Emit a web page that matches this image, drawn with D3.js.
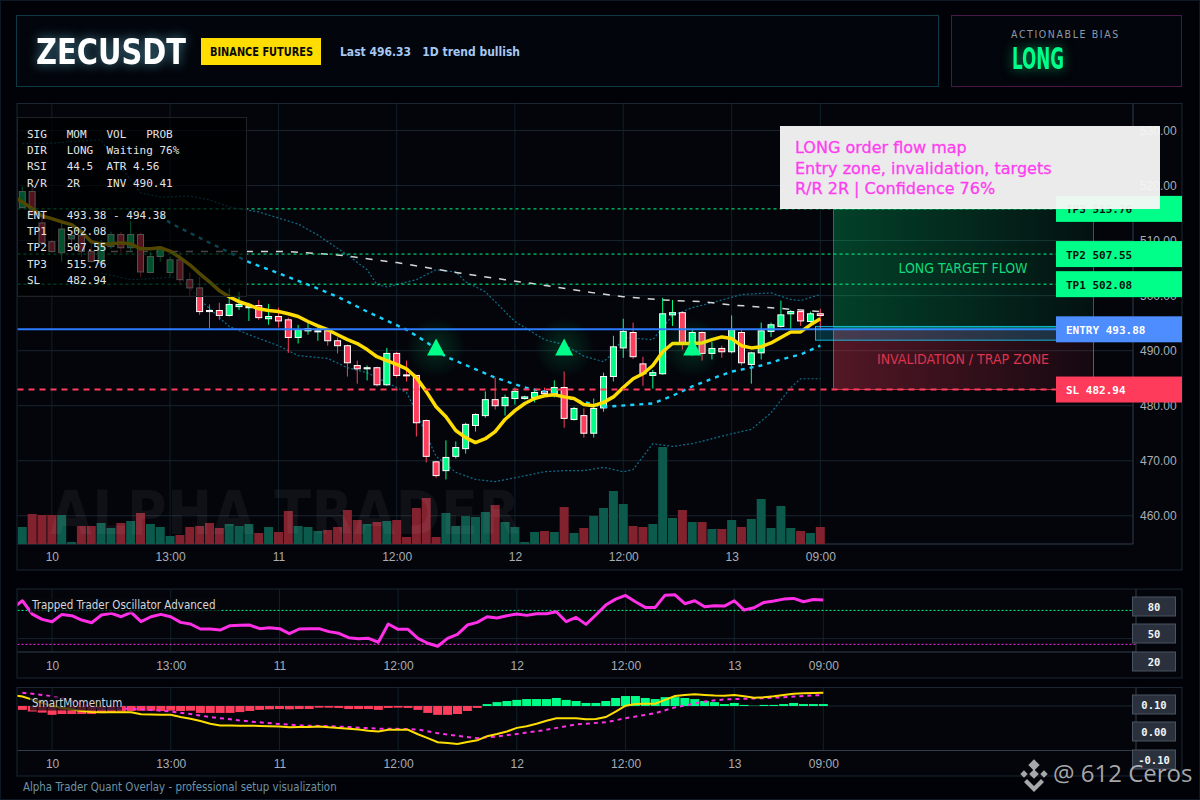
<!DOCTYPE html>
<html>
<head>
<meta charset="utf-8">
<title>ZECUSDT</title>
<script src="https://cdn.jsdelivr.net/npm/d3@7"></script>
<style>
  html, body { margin: 0; padding: 0; background: #010207; }
  svg { display: block; }
  text { white-space: pre; }
  .axis path, .axis line { display: none; }
  .axis text { font-family: "Liberation Sans", sans-serif; font-size: 12px; fill: #a9adb5; }
</style>
</head>
<body>
<div id="chart"></div>
<script>
// ------------- Data -------------------------------------- //
const opens = [
  516.0,518.9,513.2,509.8,507.8,510.3,510.9,508.0,506.0,508.9,
  511.1,508.7,511.1,504.2,507.1,504.2,506.5,502.9,501.4,497.3,
  497.3,496.4,498.0,497.8,498.2,495.8,496.2,495.6,492.4,493.6,
  493.5,493.6,491.8,490.9,487.3,486.7,486.9,483.8,489.5,485.6,
  485.5,477.3,469.8,468.2,470.8,472.2,476.4,478.2,481.1,480.0,
  481.3,481.3,481.5,482.6,482.2,483.3,477.5,478.2,475.0,479.6,
  485.3,490.5,493.3,487.6,485.5,485.8,496.5,496.9,489.3,493.3,
  489.5,490.4,489.8,493.3,487.5,489.6,493.5,494.4,496.7,497.1,
  495.3,496.7];
const highs = [
  519.8,519.8,514.7,510.1,513.8,511.1,511.6,509.6,510.1,511.6,
  511.6,513.6,511.4,508.0,508.9,507.1,508.0,504.2,503.4,498.4,
  498.7,501.3,500.7,498.7,499.2,498.5,497.8,496.0,494.7,495.1,
  494.2,493.8,492.4,491.1,488.2,487.3,487.1,490.5,489.8,488.2,
  485.6,477.5,470.0,473.7,473.5,476.9,478.6,482.6,485.1,482.0,
  483.3,481.8,482.9,483.3,484.6,486.2,479.8,479.5,481.3,486.0,
  492.7,495.8,495.1,488.9,486.5,499.6,499.2,497.1,493.8,493.5,
  491.6,490.9,496.4,493.8,489.8,495.1,495.1,499.1,497.4,497.3,
  497.1,497.6];
const lows = [
  515.8,514.3,509.1,507.8,506.2,509.2,507.1,506.0,505.6,508.5,
  507.8,508.0,503.4,504.0,506.2,503.4,502.0,499.8,496.5,494.0,
  495.6,496.2,497.4,495.4,495.6,494.7,494.2,489.6,491.3,492.9,
  491.8,490.9,489.5,485.3,484.0,484.6,483.5,483.6,485.1,484.4,
  474.4,469.7,466.9,466.6,470.4,471.3,475.3,477.8,479.3,478.2,
  480.2,481.1,480.6,482.0,481.5,476.0,477.3,474.2,474.2,478.9,
  484.4,488.7,488.5,483.6,483.1,485.6,494.5,490.2,489.1,488.2,
  488.4,488.7,489.5,487.3,484.0,488.4,492.5,494.2,493.8,494.5,
  495.1,493.8];
const closes = [
  518.9,514.7,509.6,508.0,512.1,510.9,508.0,506.2,509.6,511.1,
  508.7,511.1,504.3,507.1,508.5,506.5,502.9,501.4,497.1,497.1,
  496.4,498.4,498.4,498.0,496.0,496.2,495.4,492.4,493.8,494.0,
  493.6,491.8,490.9,487.8,486.7,486.9,483.8,489.5,485.5,485.5,
  476.9,470.8,467.3,470.6,472.4,476.6,478.4,481.1,480.0,481.5,
  482.6,481.6,482.4,482.2,483.3,477.7,479.5,475.0,479.5,485.3,
  490.7,493.5,488.9,485.8,486.0,496.7,496.9,491.5,493.3,489.5,
  490.4,489.8,493.8,487.8,489.6,493.6,494.7,496.5,497.1,495.4,
  496.7,496.4];
const volumes = [
  17,30,29,29,29,2,18,18,21,16,
  21,23,31,20,17,8,9,17,18,21,
  16,20,18,20,11,17,12,33,18,17,
  13,14,17,34,24,20,22,23,24,7,
  36,46,7,31,18,28,27,32,39,22,
  17,2,12,13,12,37,11,16,28,36,
  53,40,18,17,20,97,26,34,22,22,
  15,15,24,17,25,45,16,38,16,13,
  11,17];
const emaValues = [
  517.0,515.8,514.5,514.0,513.4,512.9,511.6,509.8,509.4,509.4,
  509.6,509.4,508.5,508.5,508.7,508.1,506.9,505.6,504.0,502.5,
  500.9,499.8,498.9,498.3,497.6,497.3,497.1,496.7,496.2,495.3,
  494.5,493.8,492.9,492.0,491.3,490.2,488.9,488.2,487.5,486.7,
  485.1,482.6,479.8,478.0,475.5,474.2,473.3,474.0,475.3,477.5,
  479.1,480.4,481.3,481.8,482.0,481.6,481.3,480.2,480.0,480.6,
  481.6,483.3,484.9,485.8,487.3,489.8,491.3,491.3,491.3,491.4,
  492.0,492.5,492.2,490.9,490.5,490.7,491.4,492.4,493.4,493.4,
  494.7,495.8];
const emaHead = 518.1;

// bands and slower lines: candle index + price pairs
const upperIdx = [0,3,6,8,9,11,12,14,17,19,21,24,28,30,33,35,36,37,38,40,42,44,45,47,50,53,55,57,59,60,61,64,65,66,68,70,73,76,78,79,81];
const upperVal = [527.6,527.7,528.1,528.3,525.6,521.0,518.7,517.9,518.1,517.4,516.1,515.2,513.0,511.0,507.4,504.7,502.0,501.6,502.0,502.9,504.7,504.3,502.5,500.7,495.3,492.0,491.1,489.0,488.0,489.6,492.4,492.0,494.2,496.4,497.8,498.7,500.2,500.5,499.3,499.1,500.2];
const lowerIdx = [8,11,16,18,21,23,26,28,31,33,35,37,39,40,41,42,44,46,48,50,53,55,57,59,61,62,64,66,68,72,74,76,78,79,81];
const lowerVal = [504.1,502.9,503.4,499.3,494.4,492.9,490.9,489.1,488.6,486.9,486.0,484.2,482.4,478.9,474.7,470.8,467.9,466.6,466.2,466.9,468.0,468.2,468.2,468.8,468.0,468.4,473.1,472.6,473.1,474.9,475.7,478.7,483.3,484.9,484.9];
const slowIdx = [14,15,19,23,28,29,32,35,39,41,43,48,51,54,56,59,64,66,68,70,72,75,77,79,81];
const slowVal = [514.7,513.2,509.6,506.1,502.7,502.0,499.8,497.1,493.8,491.6,488.9,485.1,483.3,482.2,481.1,479.8,480.4,481.8,483.5,484.9,486.2,487.3,488.4,489.3,490.9];
const vwapIdx = [9,27,32,38,44,49,54,58,61,65,69,72,76,81];
const vwapVal = [508.0,508.0,507.4,506.0,504.2,502.9,501.6,500.5,499.8,499.2,498.9,498.3,497.8,497.1];

const signalIdx = [42,55,68];
const signalPrice = 489.1;

const oscValues = [
  97.1,73.5,64.1,60.0,72.9,70.6,62.9,58.2,71.8,74.7,
  68.8,76.5,60.0,68.8,72.9,68.8,58.8,55.9,47.1,47.1,
  45.3,53.0,53.5,54.1,47.7,49.4,47.7,38.8,47.1,47.7,
  47.7,42.4,39.4,31.8,30.0,30.6,23.6,55.9,46.5,46.5,
  30.6,21.8,16.5,30.6,37.7,54.1,58.8,68.8,66.5,70.6,
  73.5,71.2,74.1,74.1,77.6,60.0,67.7,55.3,71.8,89.4,
  100.0,106.5,95.3,85.3,85.3,107.0,107.6,91.8,97.1,86.5,
  88.2,87.6,97.1,80.6,84.7,94.1,96.5,100.0,101.2,95.3,
  99.4,98.2];
const oscHead = 83.5;

const histValues = [
  -.014,-.020,-.024,-.032,-.029,-.029,-.029,-.029,-.026,-.023,
  -.020,-.018,-.017,-.017,-.018,-.017,-.018,-.017,-.025,-.025,
  -.025,-.025,-.022,-.018,-.014,-.012,-.011,-.012,-.011,-.011,
  -.006,-.006,-.007,-.011,-.011,-.011,-.014,-.007,-.006,-.007,
  -.014,-.025,-.032,-.032,-.029,-.018,-.007,.007,.014,.018,
  .022,.025,.025,.025,.029,.022,.018,.011,.011,.018,
  .029,.036,.036,.029,.025,.032,.032,.029,.025,.018,
  .014,.007,.011,.004,.001,.004,.004,.007,.011,.007,
  .007,.007];
const momValues = [
  .034,.023,.011,0,-.006,-.013,-.018,-.022,-.023,-.023,
  -.023,-.023,-.030,-.031,-.032,-.032,-.040,-.046,-.054,-.064,
  -.070,-.070,-.071,-.071,-.072,-.073,-.074,-.077,-.076,-.076,
  -.074,-.077,-.079,-.082,-.085,-.089,-.092,-.086,-.086,-.086,
  -.102,-.116,-.131,-.134,-.137,-.130,-.124,-.109,-.101,-.092,
  -.079,-.073,-.064,-.053,-.044,-.044,-.044,-.048,-.047,-.040,
  -.020,.001,.007,.008,.008,.022,.036,.040,.042,.040,
  .038,.037,.040,.035,.030,.032,.035,.040,.044,.046,
  .047,.048];
const momHead = .040;
const momSigIdx = [0,2,4,6,8,11,13,15,17,19,21,23,26,28,31,33,36,39,40,42,44,46,48,50,53,56,59,61,64,66,69,71,75,78,81];
const momSigVal = [.048,.040,.028,.006,-.011,-.010,-.014,-.020,-.029,-.040,-.048,-.056,-.065,-.070,-.073,-.076,-.082,-.083,-.085,-.098,-.108,-.116,-.110,-.101,-.086,-.066,-.059,-.044,-.026,-.005,.016,.024,.028,.034,.040];

const timeTickIdx = [3,15,26,38,50,61,72,81];
const timeTickLabels = ['10','13:00','11','12:00','12','12:00','13','09:00'];
const priceTicks = [460,470,480,490,500,510,520,530];

const tpLevels = [502.08,507.55,515.76];
const entryLevel = 493.88;
const slLevel = 482.94;
const entryBoxLevels = [494.4,491.9];

const levelTags = [
  { text: 'TP3 515.76', price: 515.76, fill: '#00ff88', color: '#04120c' },
  { text: 'TP2 507.55', price: 507.55, fill: '#00ff88', color: '#04120c' },
  { text: 'TP1 502.08', price: 502.08, fill: '#00ff88', color: '#04120c' },
  { text: 'ENTRY 493.88', price: 493.88, fill: '#4d8dff', color: '#ffffff' },
  { text: 'SL 482.94', price: 482.94, fill: '#ff3b5c', color: '#ffffff' }
];
const infoRows = [
  'SIG   MOM   VOL   PROB',
  'DIR   LONG  Waiting 76%',
  'RSI   44.5  ATR 4.56',
  'R/R   2R    INV 490.41',
  '',
  'ENT   493.38 - 494.38',
  'TP1   502.08',
  'TP2   507.55',
  'TP3   515.76',
  'SL    482.94'
];
const infoRowY = [134,150,166,183,199,215,231,247,264,280];
const noteRows = ['LONG order flow map','Entry zone, invalidation, targets','R/R 2R | Confidence 76%'];

// ------------- Colours and fonts ----------------- //
const UP = '#00ff88', DOWN = '#ff3d5c', MAGENTA = '#ff2fe6', YELLOW = '#ffdd00', CYAN = '#19d3ff';
const UI_FONT = '"DejaVu Sans Condensed","DejaVu Sans",sans-serif';
const WIDE_FONT = '"DejaVu Sans",sans-serif';
const MONO_FONT = '"DejaVu Sans Mono",monospace';
const LINE_FRAME = '#1b2632', LINE_AXIS = '#333e4c', GRID_V = '#0f2029', GRID_H = '#1a242e';

const svg = d3.select('#chart').append('svg').attr('width', 1200).attr('height', 800);
const defs = svg.append('defs');

// layout
const left = 17.5, right = 1182;
const mainPane = { top: 103.5, plotBottom: 544, bottom: 570, axisX: 1133 };
const oscPane = { top: 589, plotBottom: 652, bottom: 678, axisX: 1136 };
const momPane = { top: 687.5, plotBottom: 750.5, bottom: 776, axisX: 1136 };

// scales
const x = d3.scaleLinear().domain([0, 81]).range([22.3, 820.3]);
const xLower = d3.scaleLinear().domain([0, 81]).range([22.4, 823.3]);
const y = d3.scaleLinear().domain([480, 530]).range([405.7, 130.5]);
const yVol = d3.scaleLinear().domain([0, 100]).range([544, 444]);
const yOsc = d3.scaleLinear().domain([20, 80]).range([644.3, 610.4]);
const yMom = d3.scaleLinear().domain([0, 0.1]).range([706, 678.3]);

function clipFor(id, pane, xEnd) {
  defs.append('clipPath').attr('id', id).append('rect')
    .attr('x', left).attr('y', pane.top)
    .attr('width', xEnd - left).attr('height', pane.plotBottom - pane.top);
}
clipFor('clip-main', mainPane, mainPane.axisX);
clipFor('clip-osc', oscPane, oscPane.axisX);
clipFor('clip-mom', momPane, momPane.axisX);

function hGradient(id, color, a0, a1) {
  const g = defs.append('linearGradient').attr('id', id);
  g.append('stop').attr('offset', '0%').attr('stop-color', color).attr('stop-opacity', a0);
  g.append('stop').attr('offset', '100%').attr('stop-color', color).attr('stop-opacity', a1);
}
hGradient('zone-green', UP, 0.24, 0.05);
hGradient('zone-red', DOWN, 0.32, 0.07);

const halo = defs.append('radialGradient').attr('id', 'halo');
halo.append('stop').attr('offset', '0%').attr('stop-color', UP).attr('stop-opacity', 0.16);
halo.append('stop').attr('offset', '100%').attr('stop-color', UP).attr('stop-opacity', 0);

// ------------- Page and header ----------------- //
svg.append('rect').attr('width', 1200).attr('height', 800).attr('fill', '#010207');
svg.append('rect').attr('x', 0.5).attr('y', 0.5).attr('width', 1199).attr('height', 799)
  .attr('fill', 'none').attr('stroke', '#0d1823');

svg.append('rect').attr('x', 16.5).attr('y', 15.5).attr('width', 922).attr('height', 71)
  .attr('fill', '#02050b').attr('stroke', '#0e3a46');
svg.append('text').attr('x', 36).attr('y', 64).text('ZECUSDT')
  .attr('font-family', UI_FONT).attr('font-weight', 700).attr('font-size', 36).attr('fill', '#ffffff')
  .attr('textLength', 150).attr('lengthAdjust', 'spacingAndGlyphs')
  .style('filter', 'drop-shadow(0 0 6px rgba(120,220,255,.55))');
svg.append('rect').attr('x', 201).attr('y', 38).attr('width', 120).attr('height', 27).attr('fill', YELLOW);
svg.append('text').attr('x', 210).attr('y', 56).text('BINANCE FUTURES')
  .attr('font-family', UI_FONT).attr('font-weight', 700).attr('font-size', 12.5).attr('fill', '#0a0a0a')
  .attr('textLength', 103).attr('lengthAdjust', 'spacingAndGlyphs');
svg.append('text').attr('x', 340).attr('y', 56).text('Last 496.33   1D trend bullish')
  .attr('font-family', UI_FONT).attr('font-weight', 700).attr('font-size', 13).attr('fill', '#a6c8f2')
  .attr('textLength', 180).attr('lengthAdjust', 'spacingAndGlyphs');

svg.append('rect').attr('x', 951.5).attr('y', 15.5).attr('width', 230).attr('height', 71)
  .attr('fill', '#02050b').attr('stroke', '#4a1846');
svg.append('text').attr('x', 1011).attr('y', 38).text('ACTIONABLE BIAS')
  .attr('font-family', UI_FONT).attr('font-size', 10.5).attr('letter-spacing', 1.6).attr('fill', '#8d9aa8');
svg.append('text').attr('x', 1012).attr('y', 69).text('LONG')
  .attr('font-family', UI_FONT).attr('font-weight', 700).attr('font-size', 30).attr('fill', UP)
  .attr('textLength', 52).attr('lengthAdjust', 'spacingAndGlyphs')
  .style('filter', 'drop-shadow(0 0 6px rgba(0,255,136,.55))');

// ------------- Pane frames, grids, axes ----------------- //
function drawPane(pane, xScale, hLines, yScale, labelGap) {
  svg.append('rect').attr('x', left - 0.5).attr('y', pane.top)
    .attr('width', right - left + 0.5).attr('height', pane.bottom - pane.top)
    .attr('fill', '#03050b').attr('stroke', LINE_FRAME);

  const g = svg.append('g');
  g.selectAll('line.v').data(timeTickIdx).join('line').attr('class', 'v')
    .attr('x1', d => xScale(d)).attr('x2', d => xScale(d))
    .attr('y1', pane.top).attr('y2', pane.plotBottom)
    .attr('stroke', GRID_V);
  g.selectAll('line.h').data(hLines).join('line').attr('class', 'h')
    .attr('x1', left).attr('x2', pane.axisX)
    .attr('y1', d => yScale(d)).attr('y2', d => yScale(d))
    .attr('stroke', GRID_H);

  g.append('line').attr('x1', left).attr('x2', pane.axisX)
    .attr('y1', pane.plotBottom).attr('y2', pane.plotBottom).attr('stroke', LINE_AXIS);
  g.append('line').attr('x1', pane.axisX).attr('x2', pane.axisX)
    .attr('y1', pane.top).attr('y2', pane.plotBottom).attr('stroke', LINE_AXIS);

  const timeAxis = d3.axisBottom(xScale)
    .tickValues(timeTickIdx)
    .tickSize(0)
    .tickPadding(0)
    .tickFormat((d, i) => timeTickLabels[i]);
  svg.append('g').attr('class', 'axis')
    .attr('transform', 'translate(0,' + (pane.plotBottom + labelGap) + ')')
    .call(timeAxis);
}
drawPane(mainPane, x, priceTicks, y, 8);
drawPane(oscPane, xLower, [30], yOsc, 9);
drawPane(momPane, xLower, [0], yMom, 9);

const priceAxis = d3.axisRight(y).tickValues(priceTicks).tickSize(0).tickPadding(7).tickFormat(d3.format('.2f'));
svg.append('g').attr('class', 'axis').attr('transform', 'translate(' + mainPane.axisX + ',0)').call(priceAxis);

// ------------- Main pane marks ----------------- //
const idx = d3.range(opens.length);
const isDown = i => closes[i] < opens[i];
const main = svg.append('g').attr('clip-path', 'url(#clip-main)');

main.selectAll('rect.vol').data(idx).join('rect').attr('class', 'vol')
  .attr('x', i => x(i) - 4.5).attr('width', 9)
  .attr('y', i => yVol(volumes[i])).attr('height', i => yVol(0) - yVol(volumes[i]))
  .attr('fill', i => isDown(i) ? '#82222f' : '#0b5a4c');

main.append('text').attr('x', 50).attr('y', 534).text('ALPHA TRADER')
  .attr('font-family', UI_FONT).attr('font-weight', 700).attr('font-size', 60)
  .attr('textLength', 470).attr('lengthAdjust', 'spacing')
  .attr('fill', '#ffffff').attr('fill-opacity', 0.05);

const priceLine = d3.line().x(d => x(d[0])).y(d => y(d[1]));
const pairs = (a, b) => a.map((d, i) => [d, b[i]]);

main.append('path').attr('d', priceLine(pairs(upperIdx, upperVal)))
  .attr('fill', 'none').attr('stroke', '#0f6f8c').attr('stroke-width', 1.2).attr('stroke-dasharray', '2 2');
main.append('path').attr('d', priceLine(pairs(lowerIdx, lowerVal)))
  .attr('fill', 'none').attr('stroke', '#0f6f8c').attr('stroke-width', 1.2).attr('stroke-dasharray', '2 2');
main.append('path').attr('d', priceLine(pairs(vwapIdx, vwapVal)))
  .attr('fill', 'none').attr('stroke', '#d6d6d6').attr('stroke-width', 1.5).attr('stroke-dasharray', '7 8');

// wicks and bodies
main.selectAll('line.wick').data(idx).join('line').attr('class', 'wick')
  .attr('x1', i => x(i)).attr('x2', i => x(i))
  .attr('y1', i => y(highs[i])).attr('y2', i => y(lows[i]))
  .attr('stroke', i => isDown(i) ? DOWN : UP).attr('stroke-width', 1);
main.selectAll('rect.body').data(idx).join('rect').attr('class', 'body')
  .attr('x', i => x(i) - 3).attr('width', 6)
  .attr('y', i => y(Math.max(opens[i], closes[i])))
  .attr('height', i => Math.max(1, Math.abs(y(opens[i]) - y(closes[i]))))
  .attr('fill', i => isDown(i) ? DOWN : UP)
  .attr('stroke', '#ffffff').attr('stroke-width', 1);

main.append('path').attr('d', priceLine(pairs(slowIdx, slowVal)))
  .attr('fill', 'none').attr('stroke', CYAN).attr('stroke-width', 2.4).attr('stroke-dasharray', '4 5');
main.append('path').attr('d', priceLine([[-1, emaHead]].concat(pairs(idx, emaValues))))
  .attr('fill', 'none').attr('stroke', YELLOW).attr('stroke-width', 3.5).attr('stroke-linejoin', 'round');

// trade levels
const levels = svg.append('g');
function levelLine(price, color, width, dash) {
  levels.append('line').attr('x1', left).attr('x2', 1056)
    .attr('y1', y(price)).attr('y2', y(price))
    .attr('stroke', color).attr('stroke-width', width).attr('stroke-dasharray', dash);
}

// flow zones
const zoneX = 833, zoneW = 260;
levels.append('rect').attr('x', zoneX + 0.5).attr('y', y(tpLevels[2])).attr('width', zoneW)
  .attr('height', y(entryLevel) - y(tpLevels[2]) - 2)
  .attr('fill', 'url(#zone-green)').attr('stroke', UP).attr('stroke-opacity', 0.45);
levels.append('rect').attr('x', zoneX + 0.5).attr('y', y(entryLevel)).attr('width', zoneW)
  .attr('height', y(slLevel) - y(entryLevel))
  .attr('fill', 'url(#zone-red)').attr('stroke', DOWN).attr('stroke-opacity', 0.75);

tpLevels.forEach(p => levelLine(p, UP, 1, '3 3'));
levelLine(slLevel, DOWN, 2, '6 5');
levelLine(entryLevel, '#2f7bff', 2, null);

levels.append('rect').attr('x', 815.5).attr('y', y(entryBoxLevels[0])).attr('width', 241)
  .attr('height', y(entryBoxLevels[1]) - y(entryBoxLevels[0]))
  .attr('fill', CYAN).attr('fill-opacity', 0.2).attr('stroke', CYAN).attr('stroke-opacity', 0.8);

levels.append('text').attr('x', 963).attr('y', 273).attr('text-anchor', 'middle').text('LONG TARGET FLOW')
  .attr('font-family', UI_FONT).attr('font-size', 14).attr('fill', '#14d97c');
levels.append('text').attr('x', 963).attr('y', 364).attr('text-anchor', 'middle').text('INVALIDATION / TRAP ZONE')
  .attr('font-family', UI_FONT).attr('font-size', 14).attr('fill', '#d9344f');

// signal triangles with a soft halo
const triangle = 'M0,-17L9,0L-9,0Z';
const signals = svg.append('g').selectAll('g').data(signalIdx).join('g')
  .attr('transform', d => 'translate(' + x(d) + ',' + y(signalPrice) + ')');
signals.append('circle').attr('cy', -8).attr('r', 30).attr('fill', 'url(#halo)');
signals.append('path').attr('d', triangle).attr('fill', UP);

// level tags on the right
const tags = svg.append('g').selectAll('g').data(levelTags).join('g')
  .attr('transform', d => 'translate(1056,' + y(d.price) + ')');
tags.append('rect').attr('y', -13).attr('width', 126).attr('height', 26).attr('fill', d => d.fill);
tags.append('text').attr('x', 10).attr('y', 4.5).text(d => d.text)
  .attr('font-family', MONO_FONT).attr('font-weight', 700).attr('font-size', 11).attr('fill', d => d.color);

// note box and status panel
svg.append('rect').attr('x', 780).attr('y', 126).attr('width', 380).attr('height', 83)
  .attr('fill', '#f8f8f8').attr('fill-opacity', 0.95);
svg.append('g').selectAll('text').data(noteRows).join('text')
  .attr('x', 795).attr('y', (d, i) => 153 + i * 20.5).text(d => d)
  .attr('font-family', WIDE_FONT).attr('font-size', 16)
  .attr('fill', '#ff3df0').attr('stroke', '#ff3df0').attr('stroke-width', 0.3);

svg.append('rect').attr('x', 17.5).attr('y', 117.5).attr('width', 229).attr('height', 179)
  .attr('fill', '#000000').attr('fill-opacity', 0.68).attr('stroke', '#1c2228');
svg.append('g').selectAll('text').data(infoRows).join('text')
  .attr('x', 27).attr('y', (d, i) => infoRowY[i] + 4).text(d => d)
  .attr('font-family', MONO_FONT).attr('font-size', 11).attr('fill', '#e2e4e8');

// ------------- Oscillator pane ----------------- //
const osc = svg.append('g').attr('clip-path', 'url(#clip-osc)');
const oscGuide = (v, color) => osc.append('line').attr('x1', left).attr('x2', oscPane.axisX)
  .attr('y1', yOsc(v)).attr('y2', yOsc(v)).attr('stroke', color).attr('stroke-dasharray', '2 2');
oscGuide(80, UP);
oscGuide(20, MAGENTA);
const oscLine = d3.line().x(d => xLower(d[0])).y(d => yOsc(d[1]));
osc.append('path').attr('d', oscLine([[-1, oscHead]].concat(pairs(idx, oscValues))))
  .attr('fill', 'none').attr('stroke', MAGENTA).attr('stroke-width', 3).attr('stroke-linejoin', 'round');

// ------------- Momentum pane ----------------- //
const mom = svg.append('g').attr('clip-path', 'url(#clip-mom)');
mom.selectAll('rect').data(idx).join('rect')
  .attr('x', i => xLower(i) - 4.5).attr('width', 9)
  .attr('y', i => Math.min(yMom(0), yMom(histValues[i])))
  .attr('height', i => Math.abs(yMom(histValues[i]) - yMom(0)))
  .attr('fill', i => histValues[i] < 0 ? DOWN : UP);
const momLine = d3.line().x(d => xLower(d[0])).y(d => yMom(d[1]));
mom.append('path').attr('d', momLine(pairs(momSigIdx, momSigVal)))
  .attr('fill', 'none').attr('stroke', MAGENTA).attr('stroke-width', 2).attr('stroke-dasharray', '4 4');
mom.append('path').attr('d', momLine([[-1, momHead]].concat(pairs(idx, momValues))))
  .attr('fill', 'none').attr('stroke', YELLOW).attr('stroke-width', 2);

// ------------- Pane captions and value tags ----------------- //
function caption(label, xPos, yPos, w) {
  svg.append('rect').attr('x', xPos - 2).attr('y', yPos - 6.5).attr('width', w).attr('height', 14)
    .attr('fill', '#08090e').attr('fill-opacity', 0.72);
  svg.append('text').attr('x', xPos).attr('y', yPos + 4).text(label)
    .attr('font-family', UI_FONT).attr('font-size', 11.5).attr('fill', '#d4d6da');
}
caption('Trapped Trader Oscillator Advanced', 32, 605, 190);
caption('SmartMomentum', 32, 703, 92);

const valueTags = [
  { text: '80', y: 606.5 }, { text: '50', y: 633.5 }, { text: '20', y: 661.5 },
  { text: '0.10', y: 704.5 }, { text: '0.00', y: 731.5 }, { text: '-0.10', y: 759.5 }
];
const vt = svg.append('g').selectAll('g').data(valueTags).join('g')
  .attr('transform', d => 'translate(1132.5,' + d.y + ')');
vt.append('rect').attr('y', -9.5).attr('width', 43).attr('height', 19).attr('fill', '#2a313c').attr('stroke', '#4a5563');
vt.append('text').attr('x', 21.5).attr('y', 4).attr('text-anchor', 'middle').text(d => d.text)
  .attr('font-family', MONO_FONT).attr('font-weight', 700).attr('font-size', 10.5).attr('fill', '#f2f4f6');

// ------------- Footer ----------------- //
svg.append('text').attr('x', 23).attr('y', 791).text('Alpha Trader Quant Overlay - professional setup visualization')
  .attr('font-family', UI_FONT).attr('font-size', 11.4).attr('fill', '#6d93a6');

// creator mark, bottom right
const mark = svg.append('g').attr('transform', 'translate(1034,774)').attr('fill', '#c4c6c8').attr('fill-opacity', 0.85);
const markSquares = [[0, -9, 4], [-10, 0, 2.6], [10, 0, 2.6], [0, 0, 3.4]];
mark.selectAll('rect').data(markSquares).join('rect')
  .attr('x', d => d[0] - d[2]).attr('y', d => d[1] - d[2])
  .attr('width', d => d[2] * 2).attr('height', d => d[2] * 2)
  .attr('transform', d => 'rotate(45 ' + d[0] + ' ' + d[1] + ')');
mark.append('path').attr('d', 'M-7,5L0,12L7,5L10,8L0,18L-10,8Z');
svg.append('text').attr('x', 1053).attr('y', 782).text('@ 612 Ceros')
  .attr('font-family', '"Open Sans",sans-serif').attr('font-size', 24).attr('fill', '#c4c6c8').attr('fill-opacity', 0.85);
</script>
</body>
</html>
